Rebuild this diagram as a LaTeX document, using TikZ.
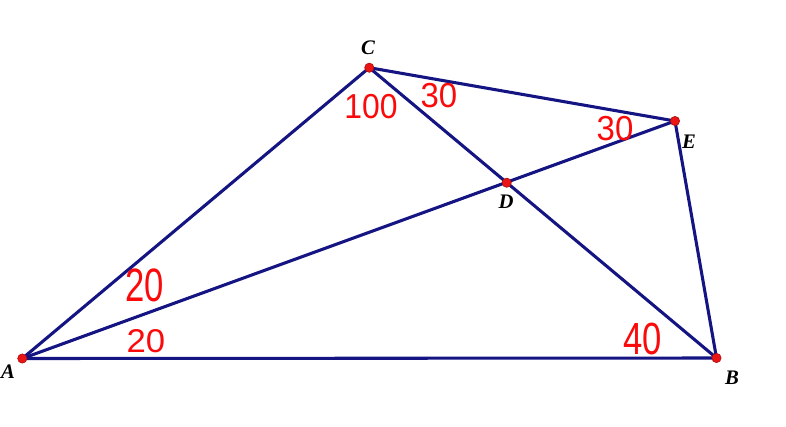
\documentclass[tikz,border=0pt]{standalone}
\usepackage{fontspec}
\setmainfont{Liberation Serif}
\newfontfamily\handfont{Liberation Sans}
\definecolor{navy}{RGB}{20,20,130}
\definecolor{ptred}{RGB}{235,20,20}
\definecolor{numred}{RGB}{250,10,10}
\begin{document}
\begin{tikzpicture}[x=0.75pt,y=-0.75pt,
  seg/.style={draw=navy,line width=2.3pt},
  pt/.style={circle,fill=ptred,draw=ptred!70!black,line width=0.4pt,inner sep=0pt,minimum size=7pt},
  lab/.style={font=\fontsize{15.5}{16}\selectfont\bfseries\itshape},
  num/.style={text=numred,font=\handfont\fontsize{26}{26}\selectfont,inner sep=0pt}]
\useasboundingbox (0,0) rectangle (786,426);
\coordinate (A) at (22.3,358.5);
\coordinate (B) at (716.5,358);
\coordinate (C) at (369.3,67.7);
\coordinate (D) at (506.7,182.7);
\coordinate (E) at (675,121);
\draw[seg] (A) -- (C);
\draw[seg] (C) -- (B);
\draw[seg] (A) -- (B);
\draw[seg] (A) -- (E);
\draw[seg] (C) -- (E);
\draw[seg] (E) -- (B);
\foreach \p in {A,B,C,D,E} \node[pt] (dot\p) at (\p) {};
\node[lab] (lA) at (8,372) {A};
\node[lab] (lB) at (732,378) {B};
\node[lab] (lC) at (368,48) {C};
\node[lab] (lD) at (506,202) {D};
\node[lab] (lE) at (689,142) {E};
\node[num,xscale=0.92] (n100) at (371,107) {100};
\node[num,xscale=0.95] (n30a) at (439,96) {30};
\node[num,xscale=0.95] (n30b) at (615,129) {30};
\node[num,yscale=1.35] (n20a) at (145,285) {20};
\node[num,yscale=0.95] (n20b) at (146,341) {20};
\node[num,yscale=1.3] (n40) at (643,339) {40};
\end{tikzpicture}
\end{document}
